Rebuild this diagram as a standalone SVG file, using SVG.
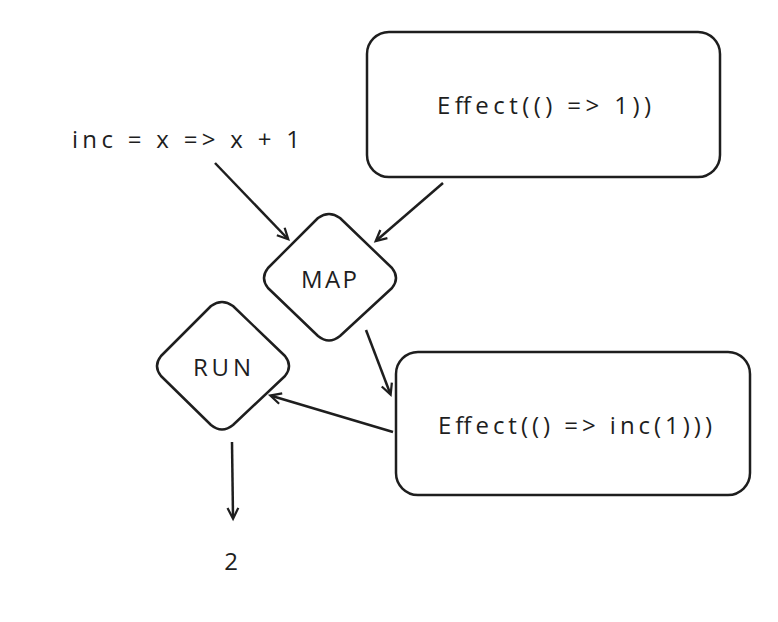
<svg xmlns="http://www.w3.org/2000/svg" width="778" height="622" viewBox="0 0 778 622">
<defs>
<style>
.s{fill:none;stroke:#1e1e1e;stroke-width:2.5;stroke-linejoin:round}
.t{font-family:"Open Sans","DejaVu Sans",sans-serif;font-size:24px;fill:#1e1e1e;text-anchor:middle;dominant-baseline:central}
.c{stroke:#1e1e1e;stroke-width:2.5;fill:none;marker-end:url(#a)}
</style>
<marker id="a" viewBox="0 0 12 12" refX="10" refY="6" markerWidth="6" markerHeight="6" orient="auto" markerUnits="userSpaceOnUse" style="overflow:visible">
<path d="M0,0 L12,6 L0,12" fill="none" stroke="#1e1e1e" stroke-width="2.5" transform="scale(1.8) translate(-4.5,-2.7)"/>
</marker>
</defs>
<rect width="778" height="622" fill="#fff"/>
<g id="effect1"><rect class="s" x="367" y="32" width="353" height="145" rx="22"/><text class="t" x="544" y="104" textLength="214" lengthAdjust="spacing">Effect(() =&gt; 1))</text></g>
<g id="inc"><text class="t" x="186" y="138" textLength="228" lengthAdjust="spacing">inc = x =&gt; x + 1</text></g>
<g id="map"><path class="s" d="M318,218 Q329,210 340,218 L392,268 Q400,278 392,288 L340,336 Q329,345 318,336 L268,288 Q260,278 268,268 Z"/><text class="t" x="329" y="278" font-size="20" textLength="56" lengthAdjust="spacing">MAP</text></g>
<g id="run"><path class="s" d="M211,306 Q222,298 233,306 L285,356 Q293,366 285,376 L233,425 Q222,434 211,425 L161,376 Q153,366 161,356 Z"/><text class="t" x="222" y="366" font-size="20" textLength="58" lengthAdjust="spacing">RUN</text></g>
<g id="effect2"><rect class="s" x="396" y="352" width="354" height="143" rx="22"/><text class="t" x="575" y="424" textLength="274" lengthAdjust="spacing">Effect(() =&gt; inc(1)))</text></g>
<g id="result"><text class="t" x="231" y="560">2</text></g>
<g id="connectors">
<line class="c" x1="215" y1="163" x2="287" y2="238"/>
<line class="c" x1="443" y1="183" x2="377" y2="240"/>
<line class="c" x1="366" y1="330" x2="390" y2="393"/>
<line class="c" x1="393" y1="432" x2="272" y2="396"/>
<line class="c" x1="232" y1="442" x2="233" y2="517"/>
</g>
</svg>
